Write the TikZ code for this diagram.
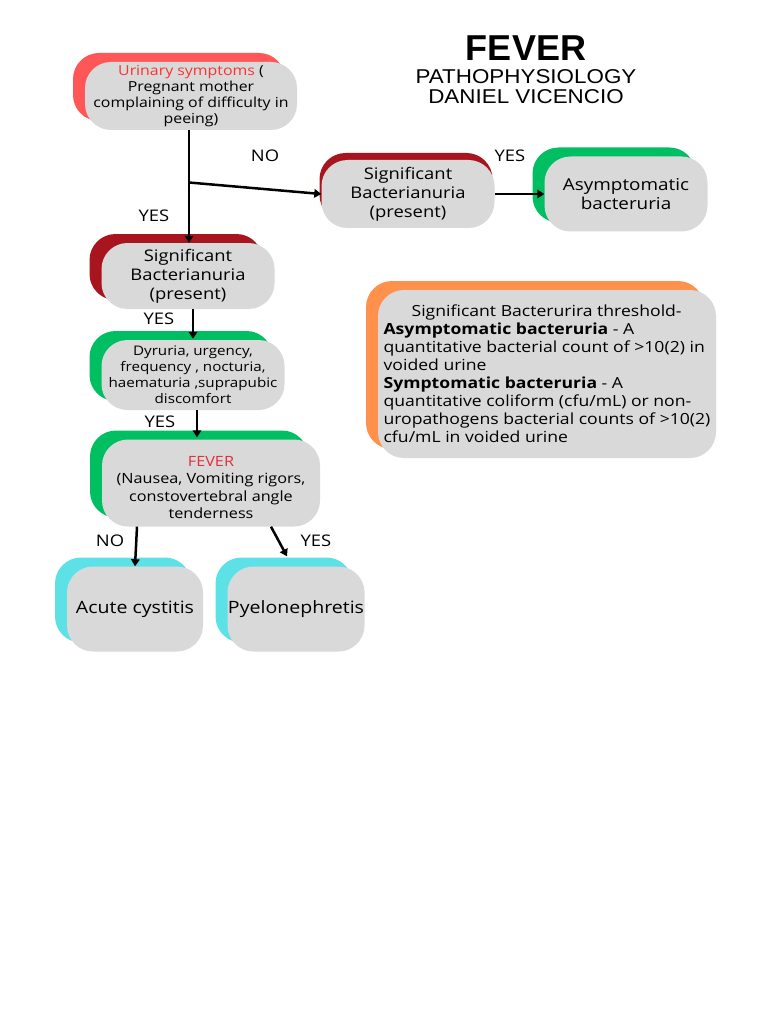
\documentclass[tikz,border=0pt]{standalone}
\usepackage{fontspec}
\setmainfont[FakeStretch=1.15]{Open Sans}
\newfontfamily\titlefont{Liberation Sans}
\newfontfamily\subfont[FakeStretch=1.12]{Liberation Sans}
\usetikzlibrary{arrows.meta,shadows,calc}
\definecolor{boxgrey}{HTML}{D9D9D9}
\definecolor{lightred}{HTML}{FF5757}
\definecolor{darkred}{HTML}{A8151E}
\definecolor{mygreen}{HTML}{00BF63}
\definecolor{mycyan}{HTML}{5CE1E6}
\definecolor{myorange}{HTML}{FF914D}
\definecolor{textred}{HTML}{FF3131}
\definecolor{feverred}{HTML}{E0303A}
\tikzset{
    box/.style={fill=boxgrey,rounded corners=26pt,align=center,inner sep=0pt},
    back/.style={drop shadow={shadow xshift=-12pt,shadow yshift=9pt,fill=#1,opacity=1}},
    arr/.style={line width=2.5pt,-{Triangle[width=8.5pt,length=7pt]}},
    lbl/.style={font=\fontsize{16}{18}\selectfont}
}
\begin{document}
\begin{tikzpicture}[x=1pt,y=-1pt]
\useasboundingbox[fill=white] (0,0) rectangle (768,1024);
% title
\node[font=\titlefont\bfseries\fontsize{36}{38}\selectfont] (title) at (526,48) {FEVER};
\node[font=\subfont\fontsize{20}{20}\selectfont,align=center] (sub) at (526,87) {PATHOPHYSIOLOGY\\DANIEL VICENCIO};
% boxes
\node[box,back=lightred,minimum width=212pt,minimum height=68pt,font=\fontsize{13.8}{16}\selectfont] (uri) at (191,96)
    {\textcolor{textred}{Urinary symptoms} (\\Pregnant mother\\complaining of difficulty in\\peeing)};
\node[box,drop shadow={shadow xshift=-2pt,shadow yshift=7pt,fill=darkred,opacity=1},minimum width=173pt,minimum height=68pt,font=\fontsize{16}{19}\selectfont] (sigr) at (408,194)
    {Significant\\Bacterianuria\\(present)};
\node[box,back=mygreen,minimum width=163pt,minimum height=75pt,font=\fontsize{16.4}{19}\selectfont] (asym) at (626,194)
    {Asymptomatic\\bacteruria};
\node[box,back=darkred,minimum width=173pt,minimum height=66pt,font=\fontsize{16}{19}\selectfont] (sigl) at (188,276)
    {Significant\\Bacterianuria\\(present)};
\node[box,back=mygreen,minimum width=183pt,minimum height=70pt,font=\fontsize{13.2}{16}\selectfont] (dys) at (193,375)
    {Dyruria, urgency,\\frequency , nocturia,\\haematuria ,suprapubic\\discomfort};
\node[box,back=mygreen,minimum width=218pt,minimum height=87pt,font=\fontsize{14.1}{17.2}\selectfont] (fev) at (211,483)
    {\rule{0pt}{19pt}\textcolor{feverred}{FEVER}\\(Nausea, Vomiting rigors,\\constovertebral angle\\tenderness};
\node[box,back=mycyan,minimum width=136pt,minimum height=85pt,font=\fontsize{17}{19}\selectfont] (cys) at (135,609)
    {Acute cystitis};
\node[box,back=mycyan,minimum width=137pt,minimum height=85pt,font=\fontsize{17}{19}\selectfont] (pye) at (296,609)
    {Pyelonephretis};
\node[box,back=myorange,minimum width=338pt,minimum height=168pt,align=left,font=\fontsize{15.3}{18}\selectfont] (thr) at (547,374)
    {\hspace*{28pt}Significant Bacterurira threshold-\\
     \textbf{Asymptomatic bacteruria} - A\\
     quantitative bacterial count of >10(2) in\\
     voided urine\\
     \textbf{Symptomatic bacteruria} - A\\
     quantitative coliform (cfu/mL) or non-\\
     uropathogens bacterial counts of >10(2)\\
     cfu/mL in voided urine};
% connectors
\coordinate (br) at ($(uri.south)!0.5!(uri.south |- sigl.north)$);
\draw[arr] ($(uri.south)+(-2,0)$) -- ($(uri.south |- sigl.north)+(-2,0)$);
\draw[arr] ($(br)+(-2,-4)$) -- (sigr.west);
\draw[arr] (sigr.east) -- (asym.west);
\draw[arr] ($(sigl.south)+(5,0)$) -- ($(dys.north)+(0,-1)$);
\draw[arr] ($(dys.south)+(4,0)$) -- ($(dys.south |- fev.north)+(4,-2)$);
\draw[arr] ($(fev.south)+(-74,0)$) -- (cys.north);
\draw[arr] ($(fev.south)+(60,0)$) -- ($(pye.north)+(-9,-10)$);
% labels
\node[lbl] (no1) at (265,156) {NO};
\node[lbl] (yes1) at (510,156) {YES};
\node[lbl] (yes2) at (154,216) {YES};
\node[lbl] (yes3) at (159,319) {YES};
\node[lbl] (yes4) at (160,422) {YES};
\node[lbl] (no2) at (110,541) {NO};
\node[lbl] (yes5) at (316,541) {YES};
\end{tikzpicture}
\end{document}
